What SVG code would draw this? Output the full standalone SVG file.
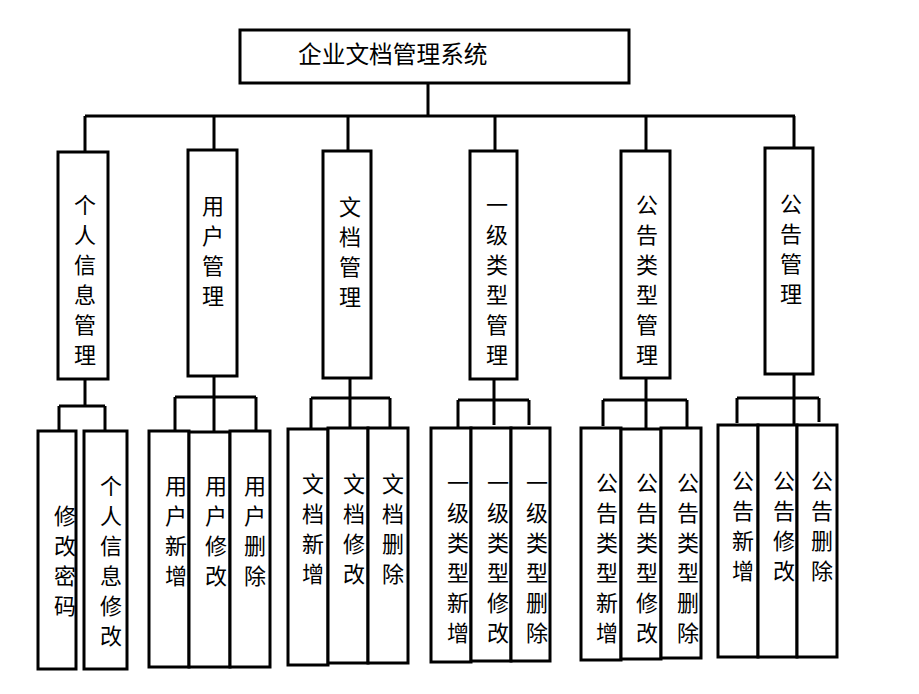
<svg xmlns="http://www.w3.org/2000/svg" width="919" height="694" viewBox="0 0 919 694">
<style>
.b{fill:#fff;stroke:#000;stroke-width:3}
.c{fill:none;stroke:#000;stroke-width:3}
text{font-family:"Noto Sans CJK SC","Noto Sans",sans-serif;font-size:22px;fill:#000;text-anchor:middle;dominant-baseline:central}
</style>
<rect width="919" height="694" fill="#fff"/>
<g id="connectors">
<path class="c" d="M428,83V116M85,116H795M85,116V152M214,116V150M348,116V151M495,116V151M646,116V151M794,116V148"/>
<path class="c" d="M85,379V406M59,406H105M59,406V431M105,406V431"/>
<path class="c" d="M214,376V431M175,397H256M175,397V431M256,397V431"/>
<path class="c" d="M350,378V428M311,398H390M311,398V429M390,398V428"/>
<path class="c" d="M494,379V425M458,400H529M458,400V428M529,400V425"/>
<path class="c" d="M646,378V428M603,400H687M603,400V426M687,400V428"/>
<path class="c" d="M794,374V425M737,398H819M737,398V423M819,398V422"/>
</g>
<g id="root"><rect class="b" x="240" y="30" width="389" height="53"/><text x="298" y="53" style="text-anchor:start;font-size:23.7px">企业文档管理系统</text></g>
<g id="n1"><rect class="b" x="58" y="152" width="50" height="227"/><text x="85"><tspan x="85" y="203">个</tspan><tspan x="85" y="233">人</tspan><tspan x="85" y="263">信</tspan><tspan x="85" y="293">息</tspan><tspan x="85" y="323">管</tspan><tspan x="85" y="353">理</tspan></text></g>
<g id="n2"><rect class="b" x="188" y="150" width="49" height="226"/><text><tspan x="213" y="204">用</tspan><tspan x="213" y="234">户</tspan><tspan x="213" y="264">管</tspan><tspan x="213" y="294">理</tspan></text></g>
<g id="n3"><rect class="b" x="323" y="151" width="48" height="227"/><text><tspan x="350" y="205">文</tspan><tspan x="350" y="235">档</tspan><tspan x="350" y="265">管</tspan><tspan x="350" y="295">理</tspan></text></g>
<g id="n4"><rect class="b" x="470" y="151" width="47" height="228"/><text><tspan x="497" y="203">一</tspan><tspan x="497" y="233">级</tspan><tspan x="497" y="263">类</tspan><tspan x="497" y="293">型</tspan><tspan x="497" y="323">管</tspan><tspan x="497" y="353">理</tspan></text></g>
<g id="n5"><rect class="b" x="621" y="151" width="49" height="227"/><text><tspan x="647" y="203">公</tspan><tspan x="647" y="233">告</tspan><tspan x="647" y="263">类</tspan><tspan x="647" y="293">型</tspan><tspan x="647" y="323">管</tspan><tspan x="647" y="353">理</tspan></text></g>
<g id="n6"><rect class="b" x="765" y="148" width="48" height="226"/><text><tspan x="791" y="202">公</tspan><tspan x="791" y="232">告</tspan><tspan x="791" y="262">管</tspan><tspan x="791" y="292">理</tspan></text></g>
<g id="n1a"><rect class="b" x="38" y="431" width="38" height="238"/><text><tspan x="65" y="514">修</tspan><tspan x="65" y="544">改</tspan><tspan x="65" y="574">密</tspan><tspan x="65" y="604">码</tspan></text></g>
<g id="n1b"><rect class="b" x="84" y="431" width="43" height="238"/><text><tspan x="111" y="484">个</tspan><tspan x="111" y="514">人</tspan><tspan x="111" y="544">信</tspan><tspan x="111" y="574">息</tspan><tspan x="111" y="604">修</tspan><tspan x="111" y="634">改</tspan></text></g>
<g id="n2a"><rect class="b" x="149" y="431" width="40" height="236"/><text><tspan x="176" y="484">用</tspan><tspan x="176" y="514">户</tspan><tspan x="176" y="544">新</tspan><tspan x="176" y="574">增</tspan></text></g>
<g id="n2b"><rect class="b" x="189" y="432" width="41" height="235"/><text><tspan x="216" y="484">用</tspan><tspan x="216" y="514">户</tspan><tspan x="216" y="544">修</tspan><tspan x="216" y="574">改</tspan></text></g>
<g id="n2c"><rect class="b" x="230" y="431" width="40" height="236"/><text><tspan x="255" y="484">用</tspan><tspan x="255" y="514">户</tspan><tspan x="255" y="544">删</tspan><tspan x="255" y="574">除</tspan></text></g>
<g id="n3a"><rect class="b" x="288" y="429" width="40" height="236"/><text><tspan x="313" y="482">文</tspan><tspan x="313" y="512">档</tspan><tspan x="313" y="542">新</tspan><tspan x="313" y="572">增</tspan></text></g>
<g id="n3b"><rect class="b" x="328" y="428" width="40" height="235"/><text><tspan x="354" y="482">文</tspan><tspan x="354" y="512">档</tspan><tspan x="354" y="542">修</tspan><tspan x="354" y="572">改</tspan></text></g>
<g id="n3c"><rect class="b" x="368" y="428" width="40" height="235"/><text><tspan x="393" y="482">文</tspan><tspan x="393" y="512">档</tspan><tspan x="393" y="542">删</tspan><tspan x="393" y="572">除</tspan></text></g>
<g id="n4a"><rect class="b" x="431" y="428" width="40" height="234"/><text><tspan x="458" y="481">一</tspan><tspan x="458" y="511">级</tspan><tspan x="458" y="541">类</tspan><tspan x="458" y="571">型</tspan><tspan x="458" y="601">新</tspan><tspan x="458" y="631">增</tspan></text></g>
<g id="n4b"><rect class="b" x="471" y="428" width="40" height="233"/><text><tspan x="498" y="481">一</tspan><tspan x="498" y="511">级</tspan><tspan x="498" y="541">类</tspan><tspan x="498" y="571">型</tspan><tspan x="498" y="601">修</tspan><tspan x="498" y="631">改</tspan></text></g>
<g id="n4c"><rect class="b" x="511" y="428" width="39" height="233"/><text><tspan x="537" y="481">一</tspan><tspan x="537" y="511">级</tspan><tspan x="537" y="541">类</tspan><tspan x="537" y="571">型</tspan><tspan x="537" y="601">删</tspan><tspan x="537" y="631">除</tspan></text></g>
<g id="n5a"><rect class="b" x="581" y="428" width="40" height="232"/><text><tspan x="607" y="481">公</tspan><tspan x="607" y="511">告</tspan><tspan x="607" y="541">类</tspan><tspan x="607" y="571">型</tspan><tspan x="607" y="601">新</tspan><tspan x="607" y="631">增</tspan></text></g>
<g id="n5b"><rect class="b" x="621" y="429" width="40" height="230"/><text><tspan x="647" y="481">公</tspan><tspan x="647" y="511">告</tspan><tspan x="647" y="541">类</tspan><tspan x="647" y="571">型</tspan><tspan x="647" y="601">修</tspan><tspan x="647" y="631">改</tspan></text></g>
<g id="n5c"><rect class="b" x="661" y="428" width="40" height="230"/><text><tspan x="688" y="481">公</tspan><tspan x="688" y="511">告</tspan><tspan x="688" y="541">类</tspan><tspan x="688" y="571">型</tspan><tspan x="688" y="601">删</tspan><tspan x="688" y="631">除</tspan></text></g>
<g id="n6a"><rect class="b" x="718" y="425" width="40" height="232"/><text><tspan x="743" y="479">公</tspan><tspan x="743" y="509">告</tspan><tspan x="743" y="539">新</tspan><tspan x="743" y="569">增</tspan></text></g>
<g id="n6b"><rect class="b" x="758" y="425" width="39" height="232"/><text><tspan x="784" y="479">公</tspan><tspan x="784" y="509">告</tspan><tspan x="784" y="539">修</tspan><tspan x="784" y="569">改</tspan></text></g>
<g id="n6c"><rect class="b" x="797" y="425" width="40" height="232"/><text><tspan x="822" y="479">公</tspan><tspan x="822" y="509">告</tspan><tspan x="822" y="539">删</tspan><tspan x="822" y="569">除</tspan></text></g>
</svg>
